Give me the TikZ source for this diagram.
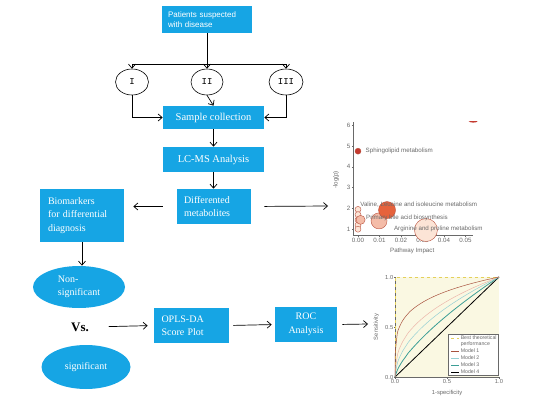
\documentclass[tikz,border=0pt]{standalone}
\usepackage{fontspec}
\setmainfont{Liberation Serif}
\newfontfamily\arialfont{Liberation Sans}
\newfontfamily\courierfont{Liberation Mono}
\usetikzlibrary{calc,arrows.meta,positioning,shapes.geometric}

\definecolor{boxblue}{RGB}{22,165,228}
\definecolor{plotgray}{RGB}{105,105,105}
\definecolor{bubdark}{RGB}{196,58,48}
\definecolor{bubmid}{RGB}{230,98,60}
\definecolor{bublight}{RGB}{244,188,168}
\definecolor{bubpale}{RGB}{252,228,214}
\definecolor{bubedge}{RGB}{185,80,60}
\definecolor{rocbg}{RGB}{250,248,226}
\definecolor{rocbest}{RGB}{228,208,90}
\definecolor{rocone}{RGB}{168,82,62}
\definecolor{rocpink}{RGB}{236,182,170}
\definecolor{roctwo}{RGB}{150,208,212}
\definecolor{rocthree}{RGB}{60,158,150}

\begin{document}
\begin{tikzpicture}[x=1pt, y=-1pt, >={Straight Barb[length=4pt,width=7pt]}, line width=0.7pt,
    blockbox/.style={fill=boxblue, text=white, inner sep=0pt, font=\fontsize{10}{13.5}\selectfont},
    grp/.style={ellipse, draw, fill=white, line width=0.6pt, minimum height=26pt, inner sep=0pt,
        font=\courierfont\fontsize{9}{10}\selectfont},
    bluecloud/.style={ellipse, fill=boxblue, text=white, inner sep=0pt, align=left,
        font=\fontsize{10}{13}\selectfont}]
    \useasboundingbox (0,0) rectangle (537,409);
    
    % Top part of the flow
    \node[blockbox, minimum width=90pt, minimum height=27pt, text width=78pt, align=left,
        font=\arialfont\fontsize{8}{9.5}\selectfont] (patients) at (207,19.5)
        {Patients suspected\\with disease};
    \node[grp, minimum width=33pt] (grpI) at (132,82) {I};
    \node[grp, minimum width=32pt] (grpII) at (207,82) {II};
    \node[grp, minimum width=34pt] (grpIII) at (286,82) {III};
    \node[blockbox, minimum width=101pt, minimum height=23pt, font=\fontsize{10.5}{12}\selectfont] (sample) at (213.5,117.5) {Sample collection};
    \node[blockbox, minimum width=101pt, minimum height=25pt, font=\fontsize{10.5}{12}\selectfont] (lcms) at (213.5,159.5) {LC-MS Analysis};
    \node[blockbox, minimum width=74pt, minimum height=35pt, text width=60pt, align=left] (diffmet) at (214,206.5) {Differented\\metabolites};
    \node[blockbox, minimum width=84pt, minimum height=53pt, text width=68pt, align=left] (biomark) at (82,215.5) {Biomarkers\\for differential\\diagnosis};
    
    % Bottom part of the flow
    \node[bluecloud, minimum width=92pt, minimum height=42pt] (nonsig) at (79,287) {Non-\\significant};
    \node[font=\fontsize{13}{14}\selectfont\bfseries] (vs) at (80,327) {Vs.};
    \node[bluecloud, minimum width=89pt, minimum height=44pt] (sig) at (86,367) {significant};
    \node[blockbox, minimum width=75pt, minimum height=35pt, text width=60pt, align=left] (opls) at (191.5,325.5) {OPLS-DA\\Score Plot};
    \node[blockbox, minimum width=62pt, minimum height=35pt, align=center] (roc) at (306,324.5) {ROC\\Analysis};
    
    % Free ends pointing at the two plots
    \coordinate (pathplot) at (328,206);
    \coordinate (rocplot) at (368,324);
    
    % Connectors
    \draw (patients.south) -- ++(0,31) coordinate (split);
    \draw[->] (split) -| (grpI.north);
    \draw[->] (split) -| (grpIII.north);
    \draw[->] (split) -- (grpII.north);
    \draw[->] (grpI.south) |- (sample.west);
    \draw[->] (grpII.south) -- (sample.north);
    \draw[->] (grpIII.south) |- (sample.east);
    \draw[->] (sample.south) -- (lcms.north);
    \draw[->] (lcms.south) -- (lcms.south |- diffmet.north);
    \draw[->, shorten <=14pt, shorten >=9pt] (diffmet.west) -- (diffmet.west -| biomark.east);
    \draw[->, shorten <=13pt] (diffmet.east) -- (pathplot);
    \draw[->] (biomark.south) -- (biomark.south |- nonsig.north);
    \draw[->, shorten <=16pt, shorten >=6pt] (vs.east) -- (opls.west);
    \draw[->, shorten <=4pt, shorten >=3pt] (opls.east) -- (roc.west);
    \draw[->, shorten <=5pt] (roc.east) -- (rocplot);
    
    % Pathway impact plot
    \begin{scope}[shift={(358,250)}, x=2150pt, y=20.8pt, line width=0.4pt,
        font=\arialfont\fontsize{6.2}{7}\selectfont, text=plotgray]
        \draw[plotgray] (-0.0023,6.15) -- (-0.0023,0.72) -- (0.0535,0.72);
        \foreach \v in {1,...,6} {
            \draw[plotgray] (-0.0023,\v) -- ++(-1.5pt,0);
            \node[left, inner sep=1pt] at (-0.003,\v) {\v};
        }
        \foreach \v/\t in {0/0.00,0.01/0.01,0.02/0.02,0.03/0.03,0.04/0.04,0.05/0.05} {
            \draw[plotgray] (\v,0.72) -- ++(0,-1.5pt);
            \node[below, inner sep=1.5pt] at (\v,0.66) {\t};
        }
        \node at (0.0252,-0.05) {Pathway Impact};
        \node[rotate=90] at (-0.0102,3.37) {-log(p)};
        % bubbles
        \fill[bubdark] (0.0515,6.2) arc (180:360:4.5pt and 1.6pt) -- cycle;
        \filldraw[fill=bubdark, draw=bubedge] (0,4.75) circle (3pt);
        \foreach \v in {1.95,1.7,1.45,1.2,1.0}
            \filldraw[fill=bubpale, draw=bubedge] (0,\v) circle (3pt);
        \filldraw[fill=bublight, draw=bubedge] (0.0012,1.45) circle (4.5pt);
        \filldraw[fill=bubpale, draw=bubedge] (0.0316,0.96) circle (11.5pt);
        \filldraw[fill=bublight, draw=bubedge] (0.0098,1.4) circle (8pt);
        \filldraw[fill=bubmid, draw=bubedge] (0.0135,1.92) circle (8.5pt);
        \node[right, inner sep=0pt] at (0.0035,4.75) {Sphingolipid metabolism};
        \node[right, inner sep=0pt] at (0.001,2.16) {Valine, Leucine and isoleucine metabolism};
        \node[right, inner sep=0pt] at (0.0037,1.54) {Primary bile acid biosynthesis};
        \node[right, inner sep=0pt] at (0.0167,1.0) {Arginine and proline metabolism};
    \end{scope}
    
    % ROC plot
    \begin{scope}[shift={(395,377)}, x=104pt, y=100pt, line width=0.5pt,
        font=\arialfont\fontsize{5.8}{6.5}\selectfont, text=plotgray]
        \fill[rocbg] (0,0) rectangle (1,1);
        \draw[plotgray, line width=0.4pt] (0,1) -- (0,0) -- (1,0);
        \foreach \v/\t in {0/0.0,0.5/0.5,1/1.0} {
            \draw[plotgray, line width=0.4pt] (0,\v) -- ++(-1.5pt,0);
            \node[left, inner sep=1.5pt] at (0,\v) {\t};
            \draw[plotgray, line width=0.4pt] (\v,0) -- ++(0,-1.5pt);
            \node[below, inner sep=2pt] at (\v,0) {\t};
        }
        \node at (0.5,-0.16) {1-specificity};
        \node[rotate=90] at (-0.18,0.5) {Sensitivity};
        \draw[rocbest, dashed, line width=0.5pt] (0,0) -- (0,1) -- (1,1);
        \draw[black, line width=0.8pt] (0,0) -- (1,1);
        \draw[rocthree, line width=0.8pt] (0,0) -- plot[domain=0.001:1, samples=40, smooth] (\x,{\x^0.7});
        \draw[roctwo] (0,0) -- plot[domain=0.001:1, samples=40, smooth] (\x,{\x^0.52});
        \draw[rocpink] (0,0) -- plot[domain=0.001:1, samples=40, smooth] (\x,{\x^0.4});
        \draw[rocone] (0,0) -- plot[domain=0.001:1, samples=50, smooth] (\x,{\x^0.22});
        % legend
        \filldraw[fill=white, draw=plotgray, line width=0.3pt] (0.51,0.02) rectangle (0.995,0.43);
        \draw[rocbest, dashed] (0.54,0.385) -- (0.62,0.385);
        \node[right, inner sep=0pt, align=left, font=\arialfont\fontsize{5.2}{5.8}\selectfont] at (0.63,0.36) {Best theoretical\\performance};
        \foreach \c/\t/\h in {rocone/Model 1/0.26, roctwo/Model 2/0.19, rocthree/Model 3/0.12, black/Model 4/0.05} {
            \draw[\c, line width=0.7pt] (0.54,\h) -- (0.62,\h);
            \node[right, inner sep=0pt, font=\arialfont\fontsize{5.2}{5.8}\selectfont] at (0.63,\h) {\t};
        }
    \end{scope}
\end{tikzpicture}
\end{document}
